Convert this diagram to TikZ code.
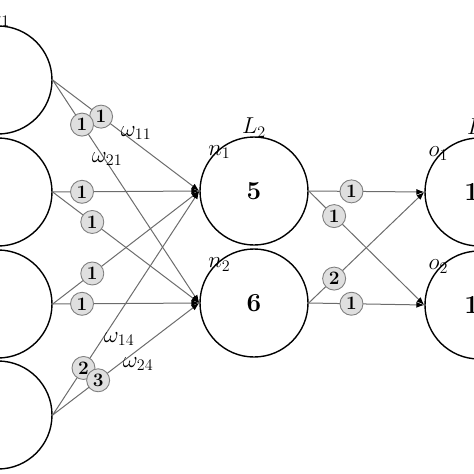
\RequirePackage{fix-cm}
\documentclass[tikz,border=0pt]{standalone}
\usepackage{fontspec}
\usetikzlibrary{arrows.meta, positioning}

\begin{document}
\begin{tikzpicture}[
  x=1pt, y=-1pt,
  neuron/.style={draw, circle, line width=1.4pt, minimum size=108pt, inner sep=0pt, font=\fontsize{26}{26}\selectfont\bfseries},
  wt/.style={draw=gray, fill=gray!25, circle, line width=0.9pt, minimum size=23pt, inner sep=0pt, font=\fontsize{19}{19}\selectfont\bfseries},
  lbl/.style={font=\fontsize{23}{23}\selectfont, inner sep=1pt},
  arrow/.style={draw=gray!85!black, line width=1pt, -{Latex[length=8pt, width=6pt, color=black]}}
]
\useasboundingbox (0,0) rectangle (474,474);

\node[neuron] (i1) at (-2,80) {};
\node[neuron] (i2) at (-2,192) {};
\node[neuron] (i3) at (-2,304) {};
\node[neuron] (i4) at (-2,415) {};
\node[neuron] (h1) at (254,191) {5};
\node[neuron] (h2) at (254,303) {6};
\node[neuron] (o1) at (479,192) {10};
\node[neuron] (o2) at (479,305) {10};

\node[lbl, above=-2pt of i1] (L1) {$L_1$};
\node[lbl, above=-2pt of h1] (L2) {$L_2$};
\node[lbl, above=-2pt of o1] (L3) {$L_3$};
\node[lbl] (n1) at ([xshift=4pt]h1.north west) {$n_1$};
\node[lbl] (n2) at ([xshift=4pt]h2.north west) {$n_2$};
\node[lbl] (o1l) at ([xshift=-2pt]o1.north west) {$o_1$};
\node[lbl] (o2l) at ([xshift=-2pt]o2.north west) {$o_2$};

\draw[arrow] (i1.east) -- node[wt, pos=0.33] {1} (h1.west);
\draw[arrow] (i1.east) -- node[wt, pos=0.2] {1} (h2.west);
\draw[arrow] (i2.east) -- node[wt, pos=0.2] {1} (h1.west);
\draw[arrow] (i2.east) -- node[wt, pos=0.27] {1} (h2.west);
\draw[arrow] (i3.east) -- node[wt, pos=0.27] {1} (h1.west);
\draw[arrow] (i3.east) -- node[wt, pos=0.2] {1} (h2.west);
\draw[arrow] (i4.east) -- node[wt, pos=0.21] {2} (h1.west);
\draw[arrow] (i4.east) -- node[wt, pos=0.31] {3} (h2.west);

\node[lbl] (w11) at (136,133) {$\omega_{11}$};
\node[lbl] (w21) at (107,159) {$\omega_{21}$};
\node[lbl] (w14) at (119,339) {$\omega_{14}$};
\node[lbl] (w24) at (138,364) {$\omega_{24}$};

\draw[arrow] (h1.east) -- node[wt, pos=0.37] {1} (o1.west);
\draw[arrow] (h1.east) -- node[wt, pos=0.22] {1} (o2.west);
\draw[arrow] (h2.east) -- node[wt, pos=0.22] {2} (o1.west);
\draw[arrow] (h2.east) -- node[wt, pos=0.37] {1} (o2.west);

\end{tikzpicture}
\end{document}
